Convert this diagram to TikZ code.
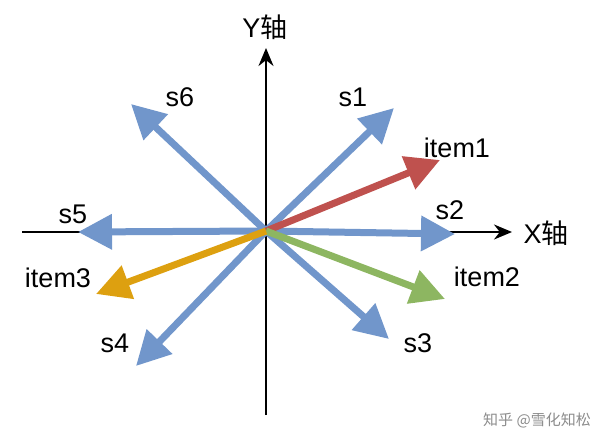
\documentclass[tikz,border=0pt]{standalone}
\usepackage{fontspec}
\setmainfont{Liberation Sans}
\newfontfamily\cjk{Noto Sans CJK SC}
\usetikzlibrary{arrows.meta}
\definecolor{sblue}{HTML}{7196CB}
\definecolor{ired}{HTML}{BF514E}
\definecolor{igreen}{HTML}{8DB661}
\definecolor{iorange}{HTML}{DDA010}
\begin{document}
\begin{tikzpicture}[x=1pt,y=-1pt,
  vec/.style={line width=7pt,-{Triangle[length=34pt,width=34pt]}},
  axis/.style={line width=2.2pt,-{Stealth[length=18pt,width=15pt]}},
  lbl/.style={font=\fontsize{27}{29}\selectfont}]
\useasboundingbox (0,0) rectangle (600,442);
\coordinate (o) at (266,231);
\coordinate (yb) at (266,415); \coordinate (yt) at (266,48);
\coordinate (xl) at (22,232); \coordinate (xr) at (512,232);
\draw[axis] (yb) -- (yt);
\draw[axis] (xl) -- (xr);
\node[lbl] (ylab) at (265,27) {Y{\cjk 轴}};
\node[lbl] (xlab) at (546,233) {X{\cjk 轴}};
\coordinate (s1) at (394,108); \coordinate (s2) at (455,234);
\coordinate (s3) at (389,339); \coordinate (s4) at (136,366);
\coordinate (s5) at (78,232); \coordinate (s6) at (131,104);
\coordinate (i1) at (440,160); \coordinate (i2) at (445,299);
\coordinate (i3) at (96,294);
\foreach \t in {s1,s2,s3,s4,s5,s6} \draw[vec,sblue] (o) -- (\t);
\draw[vec,ired] (o) -- (i1);
\draw[vec,igreen] (o) -- (i2);
\draw[vec,iorange] (o) -- (i3);
\node[lbl] (l1) at (353,97) {s1};
\node[lbl] (l2) at (450,210) {s2};
\node[lbl] (l3) at (418,343) {s3};
\node[lbl] (l4) at (115,343) {s4};
\node[lbl] (l5) at (73,214) {s5};
\node[lbl] (l6) at (180,97) {s6};
\node[lbl] (li1) at (457,148) {item1};
\node[lbl] (li2) at (487,277) {item2};
\node[lbl] (li3) at (58,278) {item3};
\node[text=black!45,font=\fontsize{15}{17}\selectfont\cjk] (wm) at (537,420) {知乎 @雪化知松};
\end{tikzpicture}
\end{document}
